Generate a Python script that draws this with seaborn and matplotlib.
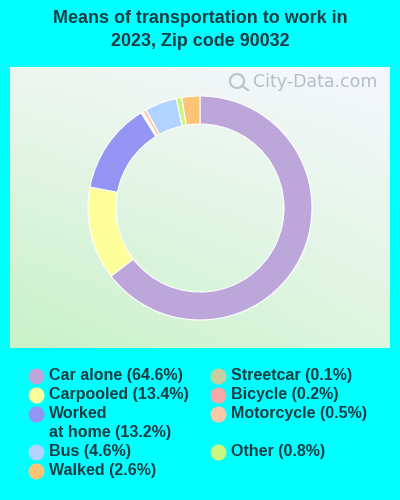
import numpy as np
import matplotlib
matplotlib.use('Agg')
import matplotlib.pyplot as plt
from matplotlib.patches import Circle
import seaborn as sns

# ring order, clockwise from the top
RING_LABELS = ['Car alone', 'Carpooled', 'Worked\nat home', 'Streetcar', 'Bicycle',
               'Motorcycle', 'Bus', 'Other', 'Walked']
RING_VALUES = [64.6, 13.4, 13.2, 0.1, 0.2, 0.5, 4.6, 0.8, 2.6]
RING_COLORS = ['#bca6da', '#feff9b', '#9494f2', '#c4d0a0', '#f6a8a8',
               '#fdc8a8', '#b0d4ff', '#ccf580', '#fdc478']

LEFT_COLUMN = ['Car alone', 'Carpooled', 'Worked\nat home', 'Bus', 'Walked']
RIGHT_COLUMN = ['Streetcar', 'Bicycle', 'Motorcycle', '', 'Other']

TITLE = 'Means of transportation to work in\n2023, Zip code 90032'
TEXT_COLOR = '#1c3d44'

sns.set_theme(style='white')
plt.rcParams['font.family'] = ['Liberation Sans', 'DejaVu Sans']


def px_axes(fig, left, top, width, height):
    return fig.add_axes([left / 400, 1 - (top + height) / 500, width / 400, height / 500])


fig = plt.figure(figsize=(4, 5), dpi=100, facecolor='#00ffff')

# gradient panel
panel = px_axes(fig, 10, 67, 380, 281)
top_left, top_right = np.array([238, 246, 240]), np.array([246, 248, 255])
bottom_left, bottom_right = np.array([200, 242, 200]), np.array([222, 245, 222])
u, v = np.meshgrid(np.linspace(0, 1, 380), np.linspace(0, 1, 281))
u, v = u[..., None], v[..., None]
gradient = (1 - v) * ((1 - u) * top_left + u * top_right) + v * ((1 - u) * bottom_left + u * bottom_right)
panel.imshow(gradient / 255, aspect='auto', interpolation='bilinear')
panel.axis('off')

# donut
ring = px_axes(fig, 88, 96, 224, 224)
ring.patch.set_alpha(0)
colors = dict(zip(RING_LABELS, sns.color_palette(RING_COLORS, len(RING_COLORS))))
ring.pie(RING_VALUES, colors=[colors[l] for l in RING_LABELS], startangle=90, counterclock=False,
         radius=1, wedgeprops=dict(width=0.25, edgecolor='white', linewidth=0.8))
ring.set_xlim(-1, 1)
ring.set_ylim(-1, 1)

fig.text(0.5, 1 - 30 / 500, TITLE, ha='center', va='center', fontsize=12.9, fontweight='bold',
         color=TEXT_COLOR, linespacing=1.4)

# everything below is placed in figure pixels
overlay = fig.add_axes([0, 0, 1, 1])
overlay.set_xlim(0, 400)
overlay.set_ylim(500, 0)
overlay.axis('off')
overlay.patch.set_alpha(0)

# watermark
overlay.text(253, 82, 'City-Data.com', ha='left', va='center', fontsize=12.5, color='#b4c0c6',
             fontfamily='DejaVu Sans')
overlay.add_patch(Circle((237, 81), 7, fill=False, ec='#b8c8cc', lw=1.6))
overlay.plot([242, 248], [86, 90], color='#b8c8cc', lw=1.6)

# legend
lookup = dict(zip(RING_LABELS, RING_VALUES))
for column, dot_x, text_x in [(LEFT_COLUMN, 36, 49), (RIGHT_COLUMN, 218, 231)]:
    y = 376
    for name in column:
        if name:
            overlay.scatter([dot_x], [y], s=132, color=colors[name], linewidths=0)
            label = f'{name} ({lookup[name]}%)'
            overlay.text(text_x, y - 8, label, va='top', fontsize=11.5, fontweight='bold',
                         color=TEXT_COLOR, linespacing=1.35)
        y += 38 if '\n' in name else 19

fig.savefig('out.png', dpi=100, facecolor=fig.get_facecolor())
